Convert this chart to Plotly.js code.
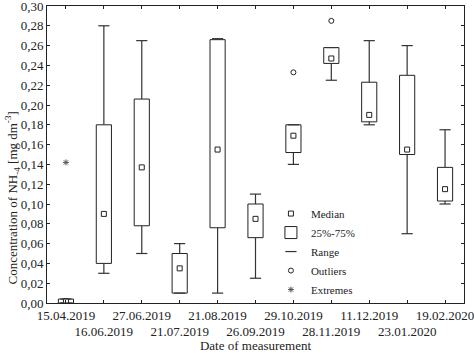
<!DOCTYPE html>
<html>
<head>
<meta charset="utf-8">
<script src="https://cdn.plot.ly/plotly-3.0.1.min.js"></script>
<style>html,body{margin:0;padding:0;background:#fff;}#chart{width:474px;height:353px;}</style>
</head>
<body>
<div id="chart"></div>
<script>
const dates = ['15.04.2019','16.06.2019','27.06.2019','21.07.2019','21.08.2019','26.09.2019','29.10.2019','28.11.2019','11.12.2019','23.01.2020','19.02.2020'];
const q1     = [0.000, 0.040, 0.078, 0.010, 0.076, 0.066, 0.152, 0.242, 0.183, 0.150, 0.103];
const median = [0.002, 0.090, 0.137, 0.035, 0.155, 0.085, 0.169, 0.247, 0.190, 0.155, 0.115];
const q3     = [0.004, 0.180, 0.206, 0.050, 0.266, 0.100, 0.180, 0.258, 0.223, 0.230, 0.137];
const minV   = [0.000, 0.030, 0.050, 0.010, 0.010, 0.025, 0.140, 0.225, 0.180, 0.070, 0.100];
const maxV   = [0.004, 0.280, 0.265, 0.060, 0.267, 0.110, 0.180, 0.258, 0.265, 0.260, 0.175];
const outlierDates  = ['29.10.2019','28.11.2019'];
const outlierValues = [0.233, 0.285];
const extremeDates  = ['15.04.2019'];
const extremeValues = [0.142];
const yTicks = [0,0.02,0.04,0.06,0.08,0.10,0.12,0.14,0.16,0.18,0.20,0.22,0.24,0.26,0.28,0.30];

const ink = '#222';
const whisk = '#333';
const zeros = dates.map(() => 0);
const idx = dates.map((d, i) => i);
const oddIdx = idx.filter(i => i % 2 === 1);

const traces = [
  {
    type: 'scatter', mode: 'markers', name: 'Median',
    x: dates, y: median,
    marker: {symbol: 'square', size: 5, color: '#fff', line: {color: ink, width: 1}},
    cliponaxis: false
  },
  {
    type: 'bar', name: '25%-75%',
    x: dates, base: q1, y: q3.map((v, i) => v - q1[i]),
    width: 0.4,
    marker: {color: '#fff', line: {color: ink, width: 1}}
  },
  {
    type: 'scatter', mode: 'markers', name: 'Range',
    x: dates, y: maxV,
    marker: {symbol: 'line-ew-open', size: 8, color: whisk, line: {color: whisk, width: 1.2}},
    error_y: {type: 'data', symmetric: false, array: zeros, arrayminus: maxV.map((v, i) => v - q3[i]), width: 0, thickness: 1.2, color: whisk}
  },
  {
    type: 'scatter', mode: 'markers', name: 'Range', showlegend: false,
    x: dates, y: minV,
    marker: {symbol: 'line-ew-open', size: 8, color: whisk, line: {color: whisk, width: 1.2}},
    error_y: {type: 'data', symmetric: false, array: q1.map((v, i) => v - minV[i]), arrayminus: zeros, width: 0, thickness: 1.2, color: whisk},
    cliponaxis: false
  },
  {
    type: 'scatter', mode: 'markers', name: 'Outliers',
    x: outlierDates, y: outlierValues,
    marker: {symbol: 'circle-open', size: 5, color: ink, line: {width: 1}}
  },
  {
    type: 'scatter', mode: 'markers', name: 'Extremes',
    xaxis: 'x2',
    x: extremeDates.map(d => dates.indexOf(d)), y: extremeValues,
    marker: {symbol: 'asterisk-open', size: 5, color: '#555', line: {width: 1, color: '#555'}}
  }
];

const layout = {
  width: 474, height: 353,
  margin: {l: 47, r: 10, t: 6, b: 50},
  paper_bgcolor: '#fff', plot_bgcolor: '#fff',
  font: {family: '"Liberation Serif", "DejaVu Serif", serif', size: 13, color: ink},
  separators: ', ',
  showlegend: true,
  barmode: 'overlay',
  xaxis: {
    type: 'category', range: [-0.5, dates.length - 0.5],
    tickmode: 'array', tickvals: dates,
    ticktext: dates.map((d, i) => i % 2 === 0 ? d : ' '),
    ticks: 'inside', ticklen: 3, tickcolor: ink,
    showline: true, linecolor: ink, linewidth: 1, mirror: 'ticks',
    showgrid: false, zeroline: false,
    tickangle: 0, ticklabeloverflow: 'allow',
    tickfont: {size: 13},
    title: {text: 'Date of measurement', font: {size: 13}, standoff: 21}
  },
  xaxis2: {
    overlaying: 'x', anchor: 'y', side: 'bottom', type: 'linear',
    range: [-0.5, dates.length - 0.5],
    tickmode: 'array', tickvals: oddIdx, ticktext: oddIdx.map(i => dates[i]),
    ticks: '', showline: false, showgrid: false, zeroline: false,
    tickangle: 0, tickfont: {size: 13}, ticklabelstandoff: 19, ticklabeloverflow: 'allow'
  },
  yaxis: {
    range: [0, 0.30], tickmode: 'array', tickvals: yTicks,
    tickformat: '.2f', ticklabeloverflow: 'allow',
    ticks: 'inside', ticklen: 3, tickcolor: ink,
    showline: true, linecolor: ink, linewidth: 1, mirror: 'ticks',
    showgrid: false, zeroline: false,
    tickfont: {size: 13}
  },
  legend: {
    x: 0.537, y: 0.35, xanchor: 'left', yanchor: 'top',
    bgcolor: 'rgba(0,0,0,0)', borderwidth: 0,
    font: {size: 11}, traceorder: 'normal', itemwidth: 30
  },
  annotations: [{
    text: 'Concentration of NH<sub>-4</sub> [mg dm<sup>-3</sup>]',
    xref: 'paper', yref: 'paper', x: -0.084, y: 0.355,
    xanchor: 'center', yanchor: 'middle', textangle: -90,
    showarrow: false, font: {size: 13}
  }]
};

Plotly.newPlot('chart', traces, layout, {displayModeBar: false, staticPlot: true});
</script>
</body>
</html>
